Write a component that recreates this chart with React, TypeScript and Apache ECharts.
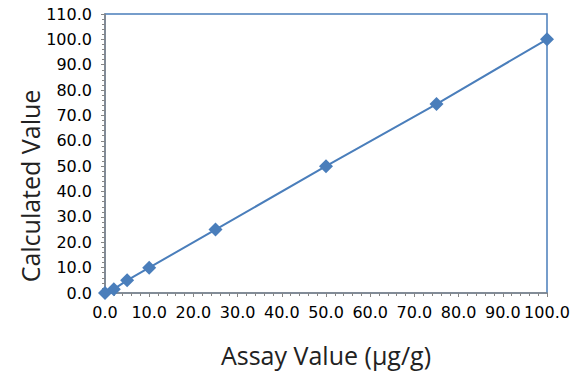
import React, { useEffect, useRef } from "react";
import * as echarts from "echarts";

const assayValues = [0, 2, 5, 10, 25, 50, 75, 100];
const calculatedValues = [0, 1.5, 5, 10, 25, 50, 74.5, 100];
const xTitle = "Assay Value (µg/g)";
const yTitle = "Calculated Value";

export default function App() {
  const ref = useRef<HTMLDivElement>(null);
  useEffect(() => {
    const chart = echarts.init(ref.current!, undefined, { renderer: "svg" });
    const blue = "#4a7ebb";
    const gray = "#868686";
    chart.setOption({
      animation: false,
      backgroundColor: "#ffffff",
      grid: {
        left: 105,
        right: 36,
        top: 14,
        bottom: 86,
        show: true,
        borderColor: blue,
        borderWidth: 1.5,
        containLabel: false,
      },
      graphic: [
        {
          type: "text",
          x: 30,
          y: 186,
          rotation: Math.PI / 2,
          style: {
            text: yTitle,
            fontFamily: "Open Sans",
            fontSize: 25,
            fill: "#222",
            textAlign: "center",
            textVerticalAlign: "middle",
          },
        },
      ],
      xAxis: {
        type: "value",
        min: 0,
        max: 100,
        interval: 10,
        name: xTitle,
        nameLocation: "middle",
        nameGap: 49,
        nameTextStyle: { fontFamily: "Open Sans", fontSize: 25, color: "#222" },
        axisLine: { show: true, lineStyle: { color: gray, width: 1.5 } },
        axisTick: { show: true, length: 4, lineStyle: { color: gray } },
        minorTick: { show: true, splitNumber: 5, length: 3, lineStyle: { color: gray } },
        splitLine: { show: false },
        axisLabel: {
          formatter: (v: number) => v.toFixed(1),
          fontFamily: "DejaVu Sans",
          fontSize: 16,
          color: "#000",
          margin: 11,
        },
      },
      yAxis: {
        type: "value",
        min: 0,
        max: 110,
        interval: 10,
        axisLine: { show: true, lineStyle: { color: gray, width: 1.5 } },
        axisTick: { show: true, length: 4, lineStyle: { color: gray } },
        minorTick: { show: true, splitNumber: 5, length: 3, lineStyle: { color: gray } },
        splitLine: { show: false },
        axisLabel: {
          formatter: (v: number) => v.toFixed(1),
          fontFamily: "DejaVu Sans",
          fontSize: 16,
          color: "#000",
          margin: 13,
        },
      },
      series: [
        {
          type: "line",
          data: assayValues.map((x, i) => [x, calculatedValues[i]]),
          symbol: "diamond",
          symbolSize: 14,
          itemStyle: { color: blue },
          lineStyle: { color: blue, width: 2 },
        },
      ],
    });
    return () => chart.dispose();
  }, []);
  return (
    <div
      ref={ref}
      style={{ position: "fixed", left: 0, top: 0, width: 583, height: 379 }}
    />
  );
}
